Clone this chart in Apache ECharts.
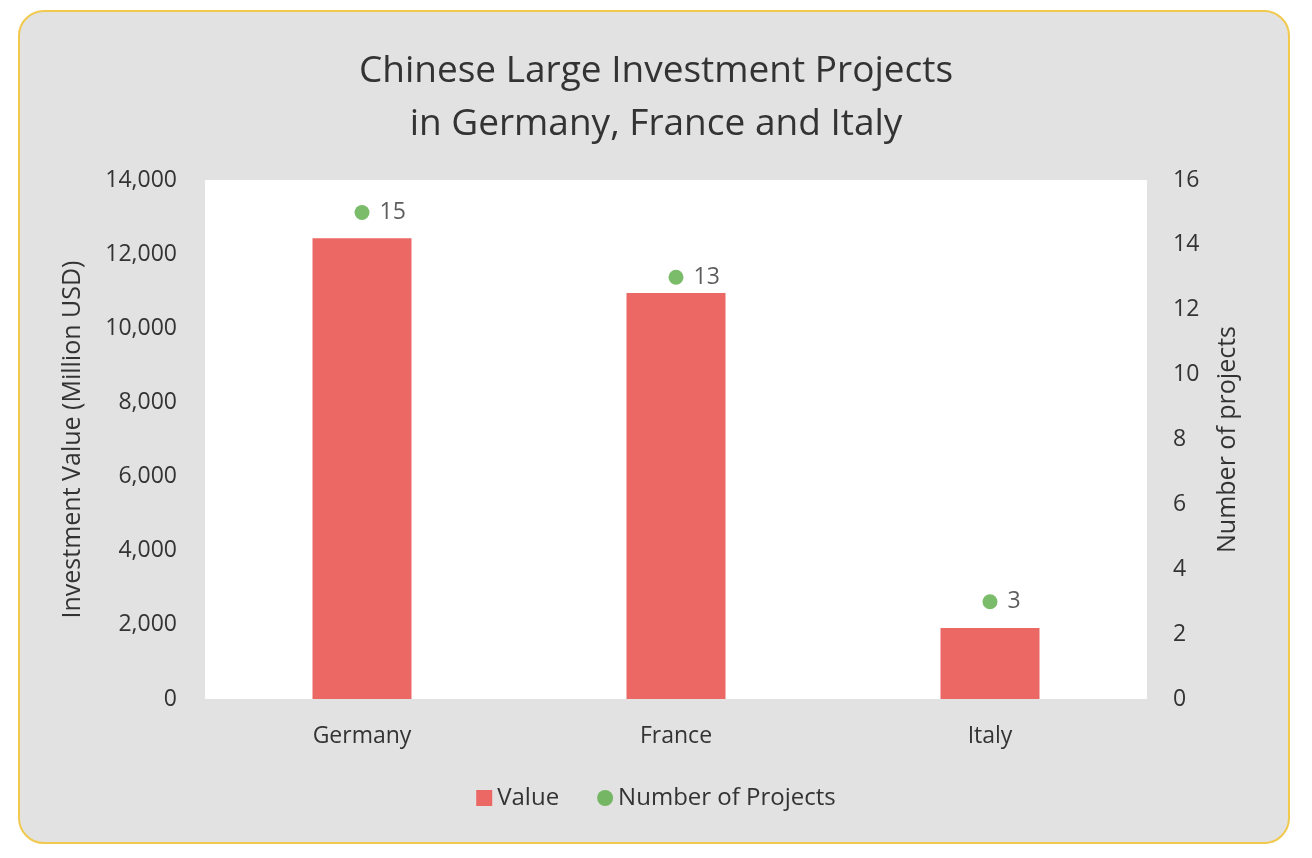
<!DOCTYPE html>
<html><head><meta charset="utf-8">
<script src="https://cdn.jsdelivr.net/npm/echarts@6/dist/echarts.min.js"></script>
<style>
html,body{margin:0;padding:0;background:#fff;}
#box{position:absolute;left:18px;top:10px;width:1272px;height:834px;background:#e2e2e2;border:2px solid #f0c94e;border-radius:26px;box-sizing:border-box;}
#c{position:absolute;left:0;top:0;width:1312px;height:858px;}
</style></head>
<body><div id="box"></div><div id="c"></div>
<script>
const categories = ["Germany","France","Italy"];
const values = [12430, 10950, 1915];
const projects = [15, 13, 3];
const chart = echarts.init(document.getElementById('c'));
const font = "'Open Sans', sans-serif";
chart.setOption({
  textStyle:{fontFamily:font},
  title:{text:"Chinese Large Investment Projects\nin Germany, France and Italy",left:'center',top:40,
    textStyle:{fontFamily:font,fontSize:37,fontWeight:'normal',color:'#333',lineHeight:53}},
  legend:{bottom:43,left:'center',itemGap:38,textStyle:{fontFamily:font,fontSize:24,color:'#333'},
    data:[{name:'Value',icon:'rect'},{name:'Number of Projects',icon:'circle'}],itemWidth:16,itemHeight:16},
  grid:{left:205,right:165,top:180,bottom:159,backgroundColor:'#fff',show:true,borderWidth:0},
  xAxis:{type:'category',data:categories,axisLine:{show:false},axisTick:{show:false},
    axisLabel:{fontSize:23,color:'#333',margin:26}},
  yAxis:[
    {type:'value',min:0,max:14000,interval:2000,splitLine:{show:false},
     name:'Investment Value (Million USD)',nameLocation:'middle',nameGap:120,
     nameTextStyle:{fontSize:25,color:'#333'},axisLabel:{fontSize:23,color:'#333',margin:28}},
    {type:'value',min:0,max:16,interval:2,splitLine:{show:false},
     name:'Number of projects',nameLocation:'middle',nameGap:68,nameRotate:90,
     nameTextStyle:{fontSize:25,color:'#333'},axisLabel:{fontSize:23,color:'#333',margin:26}}
  ],
  series:[
    {name:'Value',type:'bar',data:values,barWidth:99,itemStyle:{color:'#ec6864'}},
    {name:'Number of Projects',type:'scatter',yAxisIndex:1,data:projects,symbolSize:15,
     itemStyle:{color:'#5aab46'},label:{show:true,position:'right',distance:10,fontSize:23,color:'#333'}}
  ]
});
</script></body></html>
